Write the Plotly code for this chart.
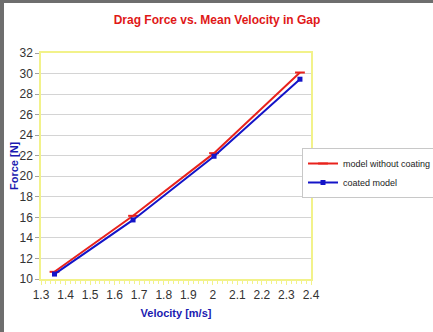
import plotly.graph_objects as go

velocity = [1.355, 1.675, 2.005, 2.355]
force_uncoated = [10.7, 16.15, 22.25, 30.1]
force_coated = [10.48, 15.75, 21.95, 29.45]

series_names = ["model without coating", "coated model"]

fig = go.Figure()
fig.add_trace(go.Scatter(x=velocity, y=force_uncoated, mode="lines+markers",
                         name=series_names[0],
                         line=dict(color="#E8221C", width=2),
                         marker=dict(symbol="line-ew", size=7, color="#E8221C",
                                     line=dict(color="#E8221C", width=2))))
fig.add_trace(go.Scatter(x=velocity, y=force_coated, mode="lines+markers",
                         name=series_names[1],
                         line=dict(color="#1414C8", width=2),
                         marker=dict(symbol="square", size=5, color="#1414C8")))

L, R, T, B = 41, 122, 53, 53
pw, ph = 433 - L - R, 332 - T - B

def px_x(p):
    return (p - L) / pw

def px_y(p):
    return (332 - B - p) / ph

fig.update_layout(
    width=433, height=332,
    margin=dict(l=L, r=R, t=T, b=B, autoexpand=False),
    paper_bgcolor="white", plot_bgcolor="white",
    font=dict(family="Liberation Sans, Arial, sans-serif", size=12, color="#333333"),
    title=dict(text="<b>Drag Force vs. Mean Velocity in Gap</b>",
               font=dict(size=12, color="#E01818"),
               x=217 / 433, xanchor="center", y=1 - 20 / 332, yanchor="middle"),
    showlegend=True,
    legend=dict(x=px_x(302), y=px_y(148), xanchor="left", yanchor="top",
                bgcolor="white", bordercolor="#C8C8C8", borderwidth=1,
                font=dict(size=9, color="#222222"),
                tracegroupgap=0, itemwidth=30),
    xaxis=dict(range=[1.3, 2.4], dtick=0.1, tickformat="~g",
               showgrid=False, showline=True, linecolor="#F2F28A", linewidth=1.5,
               mirror=True, ticks="outside", tickcolor="#F2F28A", ticklen=4,
               minor=dict(ticks="outside", ticklen=3, tickcolor="#F2F28A", dtick=0.02),
               tickfont=dict(size=12, color="#333333"),
               title=dict(text="<b>Velocity [m/s]</b>", font=dict(size=11, color="#1A1AB0"),
                          standoff=8),
               zeroline=False),
    yaxis=dict(range=[10, 32], dtick=2,
               showgrid=True, gridcolor="#D4D4D4", gridwidth=1,
               showline=True, linecolor="#F2F28A", linewidth=1.5,
               mirror=True, ticks="outside", tickcolor="#A0A0A0", ticklen=4,
               tickfont=dict(size=12, color="#333333"),
               zeroline=False),
    annotations=[
        dict(text="<b>Force [N]</b>", xref="paper", yref="paper",
             x=px_x(14), y=px_y(166), xanchor="center", yanchor="middle",
             textangle=-90, showarrow=False,
             font=dict(size=11, color="#1A1AB0")),
    ],
    shapes=[
        dict(type="rect", xref="paper", yref="paper",
             x0=px_x(0), x1=px_x(4), y0=px_y(332), y1=px_y(0),
             fillcolor="#6E6E6E", line=dict(width=0), layer="above"),
        dict(type="line", xref="paper", yref="paper",
             x0=px_x(0), x1=px_x(433), y0=px_y(1.5), y1=px_y(1.5),
             line=dict(color="#6E6E6E", width=3), layer="above"),
    ],
)

fig.write_html("out.html", config={"displayModeBar": False})
